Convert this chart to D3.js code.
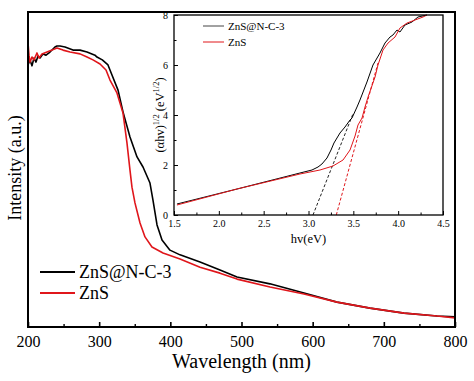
<!DOCTYPE html>
<html><head><meta charset="utf-8">
<script src="https://cdn.jsdelivr.net/npm/d3@7"></script>
<style>body{margin:0;background:#fff}svg{display:block}
svg text{font-family:"Liberation Serif","Tinos","Times New Roman","DejaVu Serif",serif !important;fill:#000}</style>
</head><body><svg id="c" width="474" height="381"></svg>
<script>
const seriesNames = ["ZnS@N-C-3", "ZnS"];
const seriesColors = ["#000000", "#e0161b"];

// Main chart: wavelength (nm) vs intensity (a.u.)
const wlBlack = [200,202.8,205.6,208.4,211.2,214.1,216.9,221.1,225.3,230.9,237.9,240.7,245,252,263.2,273.1,282.9,294.1,296.9,304.4,312.4,318,326.5,333.5,343.3,353.2,361.6,371.4,375.6,381.3,388.3,399.5,413.6,441.7,469.8,493.7,540,587.8,634.2,680.5,728.3,774.7,800];
const intBlack = [0.832,0.848,0.829,0.854,0.841,0.860,0.854,0.867,0.863,0.873,0.889,0.892,0.892,0.889,0.879,0.879,0.873,0.863,0.857,0.848,0.832,0.800,0.752,0.683,0.603,0.540,0.508,0.457,0.403,0.324,0.276,0.244,0.229,0.206,0.181,0.159,0.137,0.108,0.079,0.060,0.044,0.035,0.032];
const wlRed = [200,201.4,202.8,205.6,208.4,212.6,215.5,219.7,226.7,233.7,240.7,249.2,259,273.1,282.9,291.3,301.2,309.6,315.2,325,333.5,339.1,343.3,346.1,350.3,357.4,364.4,374.2,389.7,413.6,441.7,469.8,493.7,540,587.8,634.2,680.5,728.3,774.7,800];
const intRed = [0.902,0.863,0.841,0.857,0.848,0.870,0.854,0.867,0.873,0.879,0.886,0.879,0.873,0.867,0.857,0.848,0.835,0.816,0.784,0.743,0.679,0.584,0.498,0.444,0.394,0.330,0.286,0.254,0.235,0.216,0.190,0.171,0.152,0.127,0.105,0.079,0.060,0.044,0.035,0.029];
const xMajorTicks = [200,300,400,500,600,700,800];
const xMinorTicks = [250,350,450,550,650,750];

// Inset: Tauc plot
const evBlack = [1.533,2.203,2.905,3.039,3.106,3.150,3.206,3.251,3.284,3.351,3.407,3.463,3.485,3.541,3.574,3.652,3.719,3.797,3.853,3.909,3.942,3.987,4.020,4.076,4.154,4.221,4.321];
const ahvBlack = [0.44,1.04,1.68,1.80,1.92,2.04,2.28,2.60,2.88,3.28,3.52,3.80,3.88,4.32,4.60,5.32,6.00,6.48,6.88,7.12,7.20,7.40,7.32,7.60,7.72,7.92,8.00];
const evRed = [1.533,2.203,2.905,3.128,3.273,3.385,3.463,3.519,3.552,3.597,3.630,3.664,3.742,3.775,3.831,3.887,3.965,4.020,4.099,4.188,4.277,4.321];
const ahvRed = [0.40,1.04,1.64,1.80,1.96,2.20,2.60,3.16,3.60,3.88,4.32,4.72,5.52,6.00,6.60,6.88,7.12,7.48,7.68,7.80,7.92,8.00];
const evTanBlack = [3.05, 3.50];
const ahvTanBlack = [0, 4.08];
const evTanRed = [3.31, 3.775];
const ahvTanRed = [0, 6.08];
const insetXMajor = [1.5,2.0,2.5,3.0,3.5,4.0,4.5];
const insetXMinor = [1.75,2.25,2.75,3.25,3.75,4.25];
const insetYMajor = [0,2,4,6,8];
const insetYMinor = [1,3,5,7];

const svg = d3.select("#c");
const zip = (a, b) => a.map((v, i) => [v, b[i]]);

// ---- main chart ----
const M = {l: 28, r: 455, t: 12, b: 327};
const x = d3.scaleLinear([200, 800], [M.l, M.r]);
const y = d3.scaleLinear([0, 1], [M.b, M.t]);
const line = d3.line().x(d => x(d[0])).y(d => y(d[1]));

svg.append("path").datum(zip(wlBlack, intBlack)).attr("d", line)
  .attr("fill", "none").attr("stroke", seriesColors[0]).attr("stroke-width", 1.6).attr("stroke-linejoin", "round");
svg.append("path").datum(zip(wlRed, intRed)).attr("d", line)
  .attr("fill", "none").attr("stroke", seriesColors[1]).attr("stroke-width", 1.6).attr("stroke-linejoin", "round");

const gx = svg.append("g").attr("transform", `translate(0,${M.b})`)
  .call(d3.axisBottom(x).tickValues(xMajorTicks).tickSize(-5).tickSizeOuter(0).tickFormat(d3.format("d")));
gx.select(".domain").remove();
gx.attr("font-family", null).attr("font-size", null);
gx.selectAll(".tick line").attr("stroke-width", 1.6);
gx.selectAll(".tick text").attr("y", 20).attr("dy", 0).attr("font-size", 16);
const gxm = svg.append("g").attr("transform", `translate(0,${M.b})`)
  .call(d3.axisBottom(x).tickValues(xMinorTicks).tickSize(-3).tickSizeOuter(0).tickFormat(""));
gxm.select(".domain").remove();
gxm.selectAll(".tick line").attr("stroke-width", 1.4);

svg.append("rect").attr("x", M.l).attr("y", M.t).attr("width", M.r - M.l).attr("height", M.b - M.t)
  .attr("fill", "none").attr("stroke", "#000").attr("stroke-width", 2);

svg.append("text").attr("x", (M.l + M.r) / 2).attr("y", 368).attr("text-anchor", "middle")
  .attr("font-size", 20).text("Wavelength (nm)");
svg.append("text").attr("transform", "translate(21,168) rotate(-90)").attr("text-anchor", "middle")
  .attr("font-size", 18).text("Intensity (a.u.)");

// main legend
[272, 293].forEach((ly, i) => {
  svg.append("line").attr("x1", 40).attr("x2", 75).attr("y1", ly).attr("y2", ly)
    .attr("stroke", seriesColors[i]).attr("stroke-width", 1.8);
  svg.append("text").attr("x", 79).attr("y", ly + 6).attr("font-size", 18).text(seriesNames[i]);
});

// ---- inset ----
const I = {l: 174, r: 443, t: 15, b: 215};
const ix = d3.scaleLinear([1.5, 4.5], [I.l, I.r]);
const iy = d3.scaleLinear([0, 8], [I.b, I.t]);
const iline = d3.line().x(d => ix(d[0])).y(d => iy(d[1]));

svg.append("rect").attr("x", I.l).attr("y", I.t).attr("width", I.r - I.l).attr("height", I.b - I.t)
  .attr("fill", "#fff");

svg.append("path").datum(zip(evTanBlack, ahvTanBlack)).attr("d", iline)
  .attr("fill", "none").attr("stroke", "#222").attr("stroke-width", 1).attr("stroke-dasharray", "3,2");
svg.append("path").datum(zip(evTanRed, ahvTanRed)).attr("d", iline)
  .attr("fill", "none").attr("stroke", seriesColors[1]).attr("stroke-width", 1).attr("stroke-dasharray", "3,2");
svg.append("path").datum(zip(evBlack, ahvBlack)).attr("d", iline)
  .attr("fill", "none").attr("stroke", seriesColors[0]).attr("stroke-width", 1).attr("stroke-linejoin", "round");
svg.append("path").datum(zip(evRed, ahvRed)).attr("d", iline)
  .attr("fill", "none").attr("stroke", seriesColors[1]).attr("stroke-width", 1).attr("stroke-linejoin", "round");

const ixa = svg.append("g").attr("transform", `translate(0,${I.b})`)
  .call(d3.axisBottom(ix).tickValues(insetXMajor).tickSize(-4).tickSizeOuter(0).tickFormat(d3.format(".1f")));
ixa.select(".domain").remove();
ixa.attr("font-family", null).attr("font-size", null);
ixa.selectAll(".tick text").attr("y", 12).attr("dy", 0).attr("font-size", 10);
const ixm = svg.append("g").attr("transform", `translate(0,${I.b})`)
  .call(d3.axisBottom(ix).tickValues(insetXMinor).tickSize(-2.5).tickSizeOuter(0).tickFormat(""));
ixm.select(".domain").remove();

const iya = svg.append("g").attr("transform", `translate(${I.l},0)`)
  .call(d3.axisLeft(iy).tickValues(insetYMajor).tickSize(-4).tickSizeOuter(0).tickFormat(d3.format("d")));
iya.select(".domain").remove();
iya.attr("font-family", null).attr("font-size", null);
iya.selectAll(".tick text").attr("x", -6).attr("font-size", 10);
const iym = svg.append("g").attr("transform", `translate(${I.l},0)`)
  .call(d3.axisLeft(iy).tickValues(insetYMinor).tickSize(-2.5).tickSizeOuter(0).tickFormat(""));
iym.select(".domain").remove();

svg.append("rect").attr("x", I.l).attr("y", I.t).attr("width", I.r - I.l).attr("height", I.b - I.t)
  .attr("fill", "none").attr("stroke", "#000").attr("stroke-width", 1.3);

svg.append("text").attr("x", (I.l + I.r) / 2).attr("y", 243).attr("text-anchor", "middle")
  .attr("font-size", 12.5).text("hv(eV)");

const yl = svg.append("text").attr("transform", "translate(164,115) rotate(-90)").attr("text-anchor", "middle")
  .attr("font-size", 12.5);
yl.append("tspan").text("(\u03b1hv)");
yl.append("tspan").attr("font-size", 8.5).attr("dy", -5).text("1/2");
yl.append("tspan").attr("dy", 5).text(" (eV");
yl.append("tspan").attr("font-size", 8.5).attr("dy", -5).text("1/2");
yl.append("tspan").attr("dy", 5).text(")");

// inset legend
[26, 42].forEach((ly, i) => {
  svg.append("line").attr("x1", 203).attr("x2", 224).attr("y1", ly).attr("y2", ly)
    .attr("stroke", i === 0 ? "#444" : seriesColors[i]).attr("stroke-width", 1);
  svg.append("text").attr("x", 228).attr("y", ly + 4).attr("font-size", 11).text(seriesNames[i]);
});
</script>
</body></html>
